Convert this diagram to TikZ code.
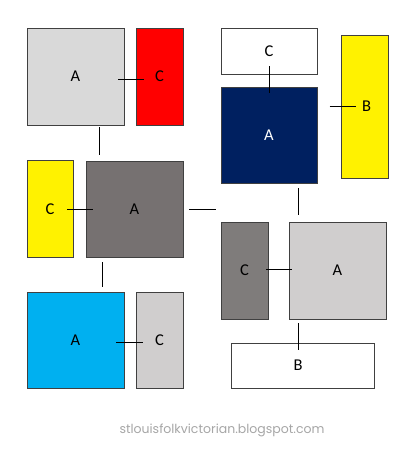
\documentclass[tikz,border=0pt]{standalone}
\usepackage{fontspec}
\setmainfont{Carlito}
\newfontfamily\blogfont{Poppins}
\definecolor{paleA}{HTML}{D9D9D9}
\definecolor{paleC}{HTML}{D0CECE}
\definecolor{navyA}{HTML}{002060}
\definecolor{slateA}{HTML}{767171}
\definecolor{slateC}{HTML}{7F7C7B}
\definecolor{skyA}{HTML}{00B0F0}
\definecolor{rim}{HTML}{404040}
\begin{document}
\begin{tikzpicture}[x=1pt, y=-1pt, font=\fontsize{16.5}{18}\selectfont, every node/.style={draw=rim, line width=0.8pt, inner sep=0pt, outer sep=0pt}, sq/.style={minimum width=97pt, minimum height=97pt}, tall/.style={minimum width=47pt, minimum height=97pt}, wide/.style={minimum width=96pt, minimum height=46pt}, link/.style={line width=0.8pt, black}]
	\useasboundingbox (0,0) rectangle (416,450);

	% top left pair
	\node[sq, fill=paleA] (aTL) at (75.5,76.5) {A};
	\node[tall, fill=red] (cTL) at (159.5,76.5) {C};
	% top right group
	\node[wide, fill=white] (cTR) at (269,51) {C};
	\node[sq, minimum width=96pt, minimum height=96pt, fill=navyA, text=white] (aTR) at (269,135) {A};
	\node[tall, minimum height=143pt, fill=yellow] (bTR) at (365,106.5) {\hspace*{3pt}B};
	% middle left pair
	\node[tall, minimum width=46pt, fill=yellow] (cML) at (50,209) {C};
	\node[sq, minimum height=96pt, fill=slateA] (aML) at (134.5,209) {A};
	% middle right pair
	\node[tall, fill=slateC] (cMR) at (244.5,270.5) {C};
	\node[sq, fill=paleC] (aMR) at (337.5,270.5) {A};
	\node[wide, minimum width=143pt, minimum height=45pt, fill=white] (bBR) at (302.5,365.5) {B\hspace*{9pt}};
	% bottom left pair
	\node[sq, minimum height=96pt, fill=skyA] (aBL) at (75.5,340) {A};
	\node[tall, minimum height=96pt, fill=paleC] (cBL) at (159.5,340) {C};

	% gaps for the loose ticks
	\coordinate (g1) at (99,0);
	\coordinate (g2) at (102,0);
	\coordinate (g3) at (298,0);

	\draw[link] ([xshift=-6pt, yshift=-2.5pt]aTL.east) -- ([xshift=8pt, yshift=-2.5pt]cTL.west);
	\draw[link] ([yshift=8pt]cTR.south) -- ([yshift=-6pt]aTR.north);
	\draw[link] ([xshift=-12pt]bTR.west) -- ([xshift=14pt]bTR.west);
	\draw[link] ([xshift=-6pt]cML.east) -- ([xshift=7pt]aML.west);
	\draw[link] ([xshift=6pt]aML.east) -- ([xshift=33pt]aML.east);
	\draw[link] ([xshift=-2pt, yshift=1.5pt]cMR.east) -- ([xshift=3pt, yshift=1.5pt]aMR.west);
	\draw[link] ([yshift=-4pt]aMR.south -| g3) -- ([yshift=-7pt]bBR.north -| g3);
	\draw[link] ([xshift=-8pt, yshift=-2pt]aBL.east) -- ([xshift=7pt, yshift=-2pt]cBL.west);
	\draw[link] ([yshift=-2pt]aTL.south -| g1) -- ([yshift=6pt]aML.north -| g1);
	\draw[link] ([yshift=-5pt]aML.south -| g2) -- ([yshift=5pt]aBL.north -| g2);
	\draw[link] ([yshift=-5pt]aTR.south -| g3) -- ([yshift=7pt]aMR.north -| g3);

	\node[draw=none, text=black!35, font=\blogfont\fontsize{12.5}{14}\selectfont] (blog) at (222,430) {stlouisfolkvictorian.blogspot.com};
\end{tikzpicture}
\end{document}
